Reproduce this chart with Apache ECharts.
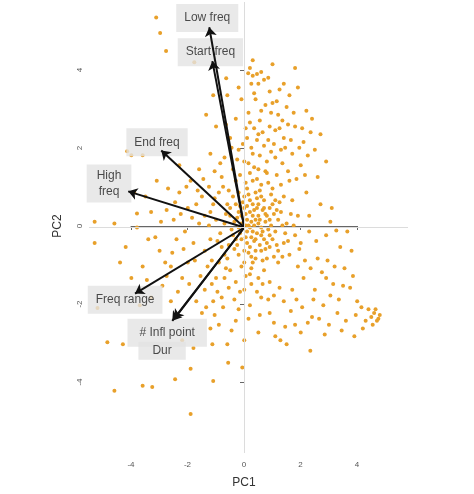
<!DOCTYPE html>
<html lang="en">
<head>
    <meta charset="UTF-8">
    <title>PCA biplot</title>
    <script src="https://cdn.jsdelivr.net/npm/echarts@6/dist/echarts.min.js"></script>
    <style>
        html, body {margin: 0; padding: 0; background: #fff;}
        #main {width: 474px; height: 494px;}
    </style>
</head>
<body>
<div id="main"></div>
<script>
    // PC scores (PC1, PC2)
    let scores = [
        [0.1,0.2],[0.3,-0.1],[-0.2,0.4],[0.5,0.3],[0.2,-0.5],[-0.4,-0.2],[0.7,-0.3],[0.9,0.5],[-0.6,0.6],[0.4,0.9],
        [0.0,-0.9],[-0.8,-0.5],[1.1,-0.1],[1.3,0.4],[0.6,1.1],[-0.3,1.2],[-1.0,0.2],[0.8,-0.8],[0.2,1.4],[-0.5,-1.1],
        [1.2,-0.9],[0.3,0.6],[-0.1,-0.3],[0.5,-1.3],[1.5,0.1],[-0.9,0.9],[0.0,0.8],[0.7,0.7],[-0.2,-0.7],[1.0,1.0],
        [0.4,-0.6],[-0.7,0.1],[0.1,1.0],[0.9,-0.5],[-0.4,0.8],[1.4,-0.4],[0.6,0.0],[-0.1,0.1],[0.2,-1.2],[-1.2,-0.3],
        [1.7,0.7],[0.8,1.4],[-0.6,-0.8],[0.3,-0.9],[1.1,0.7],[-0.3,-1.4],[0.5,1.5],[-0.8,1.3],[1.6,-0.7],[0.0,-1.6],
        [0.9,0.2],[-0.5,0.3],[0.4,0.2],[0.2,0.4],[-0.2,0.0],[0.6,-0.2],[1.2,0.2],[0.1,-0.4],[-0.9,-0.9],[0.7,-1.1],
        [1.8,-0.2],[0.3,1.2],[-0.4,1.5],[0.8,0.3],[1.3,1.1],[-1.1,0.6],[0.0,0.5],[0.5,0.6],[-0.3,0.6],[1.0,-0.3],
        [0.2,0.0],[-0.1,-1.0],[1.4,0.8],[-1.4,0.3],[0.6,-0.6],[0.9,-1.4],[-0.7,-1.3],[1.9,0.3],[0.4,-0.3],[-0.2,0.9],
        [0.15,0.05],[0.35,0.45],[-0.15,-0.15],[0.55,-0.45],[0.05,-0.25],[-0.35,0.15],[0.75,0.15],[0.25,-0.75],[-0.55,-0.45],[0.45,0.75],
        [0.3,1.9],[0.7,2.1],[1.1,1.8],[-0.2,2.0],[0.5,2.4],[1.4,2.3],[0.9,2.6],[-0.5,2.3],[1.7,1.9],[0.2,2.7],
        [1.2,2.9],[0.6,3.0],[1.8,2.6],[-0.3,2.8],[2.1,2.2],[0.8,1.7],[1.5,3.1],[0.4,3.3],[1.0,3.2],[0.1,2.3],
        [2.0,1.6],[-0.7,1.8],[1.3,2.0],[0.9,3.5],[0.5,3.7],[0.3,3.9],[0.7,3.8],[1.6,3.4],[1.9,3.6],[2.4,2.8],
        [2.5,2.0],[-0.1,3.3],[-0.6,3.4],[2.2,3.0],[1.1,2.5],[0.0,1.7],[2.7,2.4],[2.9,1.7],[-1.0,2.6],[1.4,3.7],
        [0.2,4.1],[0.3,4.3],[0.6,4.0],[1.8,4.1],[1.0,4.2],[-0.2,3.6],[-1.35,2.9],[-1.1,3.4],[-0.64,3.84],[0.14,3.97],
        [0.25,3.7],[-3.12,5.4],[-2.98,5.0],[-2.77,4.54],[-1.77,4.25],
        [-1.5,0.8],[-2.0,0.5],[-1.8,-0.4],[-2.5,0.2],[-3.0,-0.6],[-1.3,-1.0],[-2.2,-1.3],[-3.3,0.4],[-2.7,1.0],[-1.6,1.5],
        [-3.6,-1.0],[-2.0,-0.9],[-1.4,-1.6],[-2.9,-1.5],[-3.8,0.0],[-2.4,-0.3],[-1.9,1.2],[-3.1,1.2],[-2.6,-1.9],[-1.7,-1.9],
        [-4.2,-0.5],[-3.5,0.8],[-2.3,1.6],[-1.2,1.9],[-4.0,-1.3],[-1.6,0.1],[-2.8,-0.9],[-3.3,-1.8],[-1.1,-1.9],[-2.1,-0.1],
        [-4.4,-0.9],[-4.6,0.1],[-3.9,0.9],[-4.15,1.96],[-4.0,1.86],[-3.6,1.86],[-3.8,0.36],[-5.3,0.15],[-5.3,-0.4],[-5.2,-2.07],
        [-4.85,-2.95],[-4.3,-3.0],[-3.7,-2.0],[-1.2,0.4],[-1.4,-0.6],[-1.0,-1.3],[-1.7,0.6],[-2.6,-1.0],[-2.3,0.9],[-3.4,-0.3],
        [-0.8,-1.8],[0.2,-2.0],[0.9,-2.2],[-0.3,-2.4],[1.4,-1.9],[-1.2,-2.6],[0.5,-2.7],[-0.6,-3.0],[1.1,-2.8],[-1.5,-2.2],
        [0.0,-2.9],[1.8,-2.5],[-0.9,-2.5],[0.6,-1.8],[-0.2,-2.1],[1.5,-3.0],[-1.8,-3.1],[-1.13,-3.0],[1.28,-2.9],[2.34,-3.17],
        [-0.57,-3.48],[-0.07,-3.6],[-1.9,-3.63],[-1.1,-3.95],[-2.45,-3.9],[-3.26,-4.1],[-3.6,-4.07],[-4.6,-4.2],[-1.9,-4.8],[-2.2,-2.9],
        [2.0,-0.4],[2.3,0.3],[2.6,-0.8],[2.1,-1.3],[2.9,-0.2],[3.2,-1.0],[2.5,-1.6],[3.5,-1.5],[3.8,-0.6],[2.8,-2.0],
        [3.3,-2.2],[3.0,-2.5],[3.6,-2.4],[4.0,-1.9],[4.2,-2.6],[3.9,-2.8],[2.2,0.9],[2.7,0.6],[3.1,0.5],[1.9,-1.0],
        [2.4,-2.3],[3.26,-0.08],[3.65,-0.1],[3.05,0.15],[4.4,-2.1],[4.5,-2.3],[4.6,-2.2],[4.7,-2.4],[4.8,-2.25],[4.55,-2.5],
        [4.65,-2.1],[4.75,-2.35],[4.3,-2.4],[1.7,-1.6],[2.0,-2.7],[3.4,-0.5],[2.6,1.3],[2.3,-0.1],[1.6,1.2],[2.9,-1.3]
    ];

    // extra scores filling the dense core
    let coreScores = [
        [0.05,0.35],[0.25,0.15],[0.45,-0.15],[0.65,0.45],[0.85,-0.05],[1.05,0.35],[-0.05,0.65],[-0.25,0.25],[-0.45,-0.05],[0.15,-0.65],
        [0.35,-0.35],[0.55,0.95],[0.75,-0.55],[0.95,0.85],[1.15,-0.45],[1.35,0.05],[-0.65,0.35],[-0.85,-0.15],[0.05,1.15],[0.25,-1.05],
        [0.45,1.25],[0.65,-0.85],[0.85,1.15],[1.05,-0.75],[1.25,0.65],[1.45,-0.15],[1.65,0.35],[-0.15,1.35],[-0.35,-0.55],[-0.55,0.95],
        [0.15,1.65],[0.35,1.55],[0.55,1.85],[0.75,1.45],[0.95,1.95],[1.15,1.35],[1.35,1.65],[1.55,1.45],[-0.25,1.75],[-0.05,2.15],
        [0.25,2.05],[0.45,2.25],[0.65,2.45],[0.85,2.25],[1.05,2.15],[1.25,2.55],[1.45,2.05],[1.65,2.25],[0.35,2.55],[0.15,2.95],
        [0.55,2.75],[0.75,3.15],[0.95,2.95],[1.15,3.25],[1.35,2.75],[1.75,2.95],[2.05,2.55],[2.25,1.85],[1.95,2.05],[0.05,2.55],
        [-0.45,2.05],[-0.65,2.65],[0.35,3.45],[0.85,3.85],[1.25,3.55],[0.45,3.95],[1.55,2.65],[2.35,2.45],[1.85,1.25],[2.15,1.35],
        [0.1,-0.1],[0.3,0.3],[0.5,0.1],[0.7,0.5],[0.9,-0.2],[-0.1,0.3],[-0.3,-0.3],[0.2,0.7],[0.4,-0.8],[0.6,0.8],
        [0.8,-0.4],[1.0,0.6],[1.2,-0.6],[-0.5,0.5],[-0.7,-0.7],[0.0,-0.6],[0.1,0.55],[0.45,0.5],[0.65,-0.1],[-0.15,0.55],
        [0.25,-0.25],[0.55,0.2],[0.75,0.35],[0.35,0.05],[0.05,0.05],[-0.25,-0.45],[0.15,0.85],[0.95,0.05],[1.15,0.45],[1.35,-0.75],
        [1.55,-0.35],[1.75,0.05],[1.95,-0.55],[2.15,-0.85],[2.35,-1.05],[2.55,-0.35],[2.75,-1.15],[2.95,-0.85],[3.15,-1.45],[3.35,-1.85],
        [2.45,-1.85],[2.65,-2.35],[1.85,-1.85],[2.05,-2.05],[1.25,-1.55],[1.05,-1.75],[0.85,-1.85],[0.65,-1.45],[0.45,-1.65],[0.25,-1.45],
        [0.05,-1.25],[-0.15,-1.65],[-0.35,-1.85],[-0.55,-1.55],[-0.75,-2.05],[-0.95,-1.65],[-1.15,-1.45],[-1.35,-2.05],[0.15,-2.35],[0.55,-2.25],
        [1.05,-2.45],[1.45,-2.55],[-0.45,-2.65],[-1.05,-2.25],[-1.55,-1.25],[-1.75,-0.85],[-1.95,-1.45],[-2.15,-0.55],[-2.35,-1.65],[-2.55,-0.65],
        [-1.25,1.05],[-1.45,1.25],[-1.05,1.45],[-0.85,1.65],[-1.65,0.95],[-1.85,0.25],[-2.05,1.05],[-2.25,0.35],[-2.45,0.65],[-2.75,0.45],
        [-2.95,0.15],[-3.15,-0.25],[-3.45,-1.35],[-2.75,-1.25],[-1.15,-0.85],[-1.25,0.05],[-0.95,-0.35],[-1.05,0.75],[-0.75,1.05],[-0.65,-1.05],
        [3.55,-1.05],[3.75,-1.55],[3.95,-2.25],[4.15,-2.05],[3.45,-2.65],[2.85,-2.75],[3.05,-1.75],[2.25,-2.45],[1.65,-2.15],[3.85,-1.25]
    ];

    // loadings (arrow tips) and their labels
    let varNames = ['Low freq', 'Start freq', 'End freq', 'High\nfreq', 'Freq range', '# Infl point', 'Dur'];
    let arrowTips = [[-1.24, 5.15], [-1.13, 4.28], [-2.94, 1.98], [-4.11, 0.93], [-3.87, -1.70], [-2.48, -2.35], [-2.55, -2.40]];
    let labelPos = [[-1.31, 5.39], [-1.2, 4.51], [-3.09, 2.19], [-4.79, 1.13], [-4.22, -1.86], [-2.73, -2.71], [-2.91, -3.17]];

    let myChart = echarts.init(document.getElementById('main'));
    let labelPad = [[6, 8], [6, 8], [6, 8], [3, 10], [6, 8], [6, 12], [1, 14]];

    let option = {
        animation: false,
        grid: [
            {left: 89, top: 2, width: 319, height: 451},
            {left: 131, top: 70, width: 226, height: 312}
        ],
        xAxis: [
            {gridIndex: 0, type: 'value', min: -5.5, max: 5.8, show: false},
            {
                gridIndex: 1, type: 'value', min: -4, max: 4, interval: 2, offset: 71,
                name: 'PC1', nameLocation: 'middle', nameGap: 24,
                nameTextStyle: {color: '#333', fontSize: 12, fontFamily: 'Liberation Sans'},
                axisLine: {lineStyle: {color: '#666'}},
                axisTick: {lineStyle: {color: '#666'}, length: 4},
                axisLabel: {color: '#555', fontSize: 8, margin: 8, fontFamily: 'Liberation Sans'},
                splitLine: {show: false}
            }
        ],
        yAxis: [
            {gridIndex: 0, type: 'value', min: -5.8, max: 5.8, show: false},
            {
                gridIndex: 1, type: 'value', min: -4, max: 4, interval: 2, offset: 41,
                name: 'PC2', nameLocation: 'middle', nameGap: 26, nameRotate: 90,
                nameTextStyle: {color: '#333', fontSize: 12, fontFamily: 'Liberation Sans'},
                axisLine: {show: true, lineStyle: {color: '#666'}},
                axisTick: {show: true, lineStyle: {color: '#666'}, length: 4},
                axisLabel: {color: '#555', fontSize: 8, margin: 6, rotate: 90, fontFamily: 'Liberation Sans'},
                splitLine: {show: false}
            }
        ],
        series: [
            {
                type: 'scatter',
                xAxisIndex: 0, yAxisIndex: 0,
                symbolSize: 4,
                itemStyle: {color: '#e8a02a', opacity: 1},
                data: scores.concat(coreScores),
                markLine: {
                    silent: true,
                    symbol: 'none',
                    label: {show: false},
                    lineStyle: {color: '#dcdcdc', type: 'solid', width: 1},
                    data: [{xAxis: 0}, {yAxis: 0}]
                },
                z: 2
            },
            {
                type: 'lines',
                coordinateSystem: 'cartesian2d',
                xAxisIndex: 0, yAxisIndex: 0,
                symbol: ['none', 'arrow'],
                symbolSize: 9,
                lineStyle: {color: '#111', width: 2, opacity: 1},
                data: arrowTips.map(t => ({coords: [[0, 0], t]})),
                z: 4
            },
            {
                type: 'scatter',
                xAxisIndex: 0, yAxisIndex: 0,
                symbolSize: 0,
                data: labelPos.map((p, i) => ({
                    value: p,
                    label: {
                        show: true, position: 'inside', formatter: varNames[i],
                        color: '#222', fontSize: 12, lineHeight: 16, fontFamily: 'Liberation Sans',
                        backgroundColor: '#e3e3e3', padding: labelPad[i]
                    }
                })),
                z: 3
            }
        ]
    };
    myChart.setOption(option);
</script>
</body>
</html>
